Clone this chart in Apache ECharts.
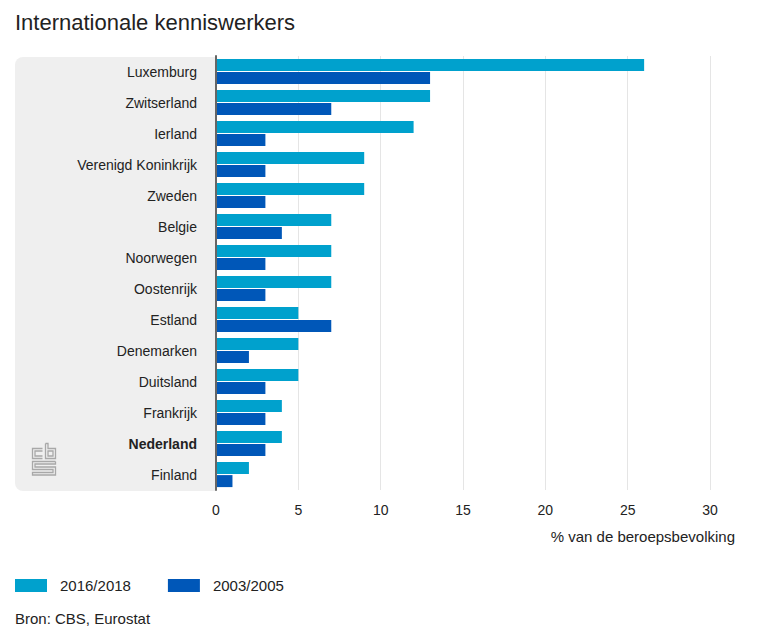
<!DOCTYPE html>
<html>
<head>
<meta charset="utf-8">
<script src="https://cdn.jsdelivr.net/npm/echarts@6/dist/echarts.min.js"></script>
<style>
  html, body { margin: 0; padding: 0; background: #fff; }
  #chart { width: 768px; height: 640px; }
</style>
</head>
<body>
<div id="chart"></div>
<script>
// gegevens
const landen = ['Luxemburg', 'Zwitserland', 'Ierland', 'Verenigd Koninkrijk', 'Zweden', 'Belgie',
  'Noorwegen', 'Oostenrijk', 'Estland', 'Denemarken', 'Duitsland', 'Frankrijk', 'Nederland', 'Finland'];
const recent = [26, 13, 12, 9, 9, 7, 7, 7, 5, 5, 5, 4, 4, 2];     // 2016/2018
const eerder = [13, 7, 3, 3, 3, 4, 3, 3, 7, 2, 3, 3, 3, 1];       // 2003/2005
const xTicks = [0, 5, 10, 15, 20, 25, 30];

const FONT = '"Liberation Sans", Arial, Helvetica, sans-serif';
const chart = echarts.init(document.getElementById('chart'), null, { renderer: 'svg' });

const option = {
  backgroundColor: '#fff',
  animation: false,
  textStyle: { fontFamily: FONT },
  title: [
    {
      text: 'Internationale kenniswerkers',
      left: 15, top: 11, padding: 0,
      textStyle: { fontSize: 22, fontWeight: 'normal', color: '#222', fontFamily: FONT }
    },
    {
      text: 'Bron: CBS, Eurostat',
      left: 15, top: 611, padding: 0,
      textStyle: { fontSize: 15, fontWeight: 'normal', color: '#222', fontFamily: FONT }
    }
  ],
  legend: {
    left: 10, top: 573,
    icon: 'rect',
    itemWidth: 32, itemHeight: 13,
    itemGap: 37,
    textStyle: { fontSize: 15, color: '#222', fontFamily: FONT, padding: [0, 0, 0, 8] },
    data: ['2016/2018', '2003/2005']
  },
  grid: { left: 216, right: 58, top: 56, height: 434 },
  xAxis: {
    type: 'value',
    min: xTicks[0], max: xTicks[xTicks.length - 1], interval: 5,
    axisLine: { show: false },
    axisTick: { show: false },
    axisLabel: { fontSize: 14, color: '#222', margin: 13, fontFamily: FONT },
    splitLine: { lineStyle: { color: '#e5e5e5', width: 1 } }
  },
  yAxis: {
    type: 'category',
    inverse: true,
    data: landen,
    axisLine: { lineStyle: { color: '#666', width: 2 } },
    axisTick: { show: false },
    axisLabel: {
      fontSize: 14, color: '#222', margin: 19, fontFamily: FONT,
      formatter: v => v === 'Nederland' ? '{b|' + v + '}' : v,
      rich: { b: { fontWeight: 'bold', fontSize: 14, color: '#222', fontFamily: FONT } }
    },
    z: 5
  },
  graphic: [
    {
      type: 'rect', z: -10, silent: true,
      shape: { x: 15, y: 57, width: 201, height: 434, r: [8, 0, 0, 8] },
      style: { fill: '#efefef' }
    },
    {
      type: 'text', right: 33, top: 529,
      style: { text: '% van de beroepsbevolking', font: '15px ' + FONT, fill: '#222' }
    },
    // cbs-logo
    {
      type: 'group', left: 30, top: 441, silent: true,
      children: [
        { type: 'polyline', shape: { points: [[11, 5], [1, 5], [1, 15], [11, 15]] },
          style: { stroke: '#a8a8a8', lineWidth: 1.3, fill: null } },
        { type: 'polyline', shape: { points: [[11, 7.5], [3.5, 7.5], [3.5, 12.5], [11, 12.5]] },
          style: { stroke: '#a8a8a8', lineWidth: 1.3, fill: null } },
        { type: 'polyline', shape: { points: [[14, 0], [14, 15], [24, 15], [24, 5], [16.5, 5], [16.5, 0], [14, 0]] },
          style: { stroke: '#a8a8a8', lineWidth: 1.3, fill: null } },
        { type: 'rect', shape: { x: 16.5, y: 7.5, width: 5, height: 5 },
          style: { stroke: '#a8a8a8', lineWidth: 1.3, fill: null } },
        { type: 'polyline', shape: { points: [[24, 18], [1, 18], [1, 26], [21.5, 26], [21.5, 29], [1, 29], [1, 31.5], [24, 31.5], [24, 23.5], [3.5, 23.5], [3.5, 20.5], [24, 20.5], [24, 18]] },
          style: { stroke: '#a8a8a8', lineWidth: 1.3, fill: null } }
      ]
    }
  ],
  series: [
    {
      name: '2016/2018', type: 'bar', data: recent,
      barWidth: 12, barGap: '10%',
      itemStyle: { color: '#00a1cd' }
    },
    {
      name: '2003/2005', type: 'bar', data: eerder,
      barWidth: 12,
      itemStyle: { color: '#0057b8' }
    }
  ]
};

chart.setOption(option);
</script>
</body>
</html>
